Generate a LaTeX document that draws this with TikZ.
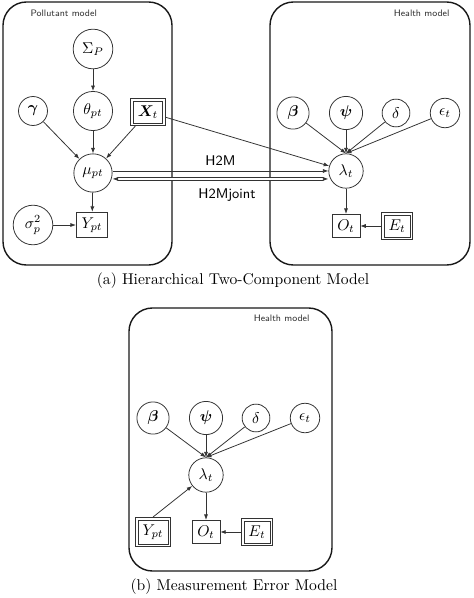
\documentclass[tikz,border=0pt]{standalone}
\usepackage{amsmath,amssymb}
\usepackage{bm}
\usepackage{tikz}
\usetikzlibrary{positioning,calc,arrows.meta}

\tikzset{
    latent/.style={circle, draw=black!80, line width=0.5pt},
    obs/.style={rectangle, draw=black!80, line width=0.5pt},
    fixed/.style={obs, inner sep=4.5pt,
        path picture={\draw [black!80, line width=0.5pt]
            ([shift={(1.6pt,1.6pt)}]path picture bounding box.south west) rectangle
            ([shift={(-1.6pt,-1.6pt)}]path picture bounding box.north east);}},
    plate/.style={draw=black!90, line width=0.9pt, rounded corners=15pt},
    platelabel/.style={font=\fontsize{6}{7}\selectfont\sffamily, text=black!80},
    edge/.style={-{Latex[length=3.5pt,width=2.6pt]}, draw=black!80, line width=0.5pt},
    jointedge/.style={{Latex[length=3.5pt,width=2.6pt]}-{Latex[length=3.5pt,width=2.6pt]}, draw=black!80, line width=0.5pt, double, double distance=1.1pt}
}

\begin{document}
\begin{tikzpicture}[x=0.641pt, y=-0.641pt]
    \useasboundingbox (0,0) rectangle (474,598);

    % (a) plates
    \draw [plate] (3,2) rectangle (172,265);
    \draw [plate] (270,2) rectangle (470,265);
    \node [platelabel, anchor=west] (pl) at (25,13) {Pollutant model};
    \node [platelabel, anchor=east] (hl) at (455,13) {Health model};

    % pollutant model
    \node [latent] (Sigma) at (93,49) {$\Sigma_P$};
    \node [latent] (theta) at (93,111) {$\theta_{pt}$};
    \node [latent] (gamma) at (33,111) {$\bm{\gamma}$};
    \node [fixed] (X) at (148,112) {$\bm{X}_t$};
    \node [latent] (mu) at (93,173) {$\mu_{pt}$};
    \node [latent] (sigma) at (33,225) {$\sigma_p^2$};
    \node [obs] (Y) at (92,225) {$Y_{pt}$};

    % health model
    \node [latent] (beta) at (293,113) {$\bm{\beta}$};
    \node [latent] (psi) at (346,113) {$\bm{\psi}$};
    \node [latent] (delta) at (396,113) {$\delta$};
    \node [latent] (eps) at (445,113) {$\epsilon_t$};
    \node [latent] (lambda) at (346,171) {$\lambda_t$};
    \node [obs] (O) at (346,226) {$O_t$};
    \node [fixed] (E) at (397,226) {$E_t$};

    \draw [edge] (Sigma) -- (theta);
    \draw [edge] (theta) -- (mu);
    \draw [edge] (gamma) -- (mu);
    \draw [edge] (X) -- (mu);
    \draw [edge] (mu) -- (Y);
    \draw [edge] (sigma) -- (Y);
    \draw [edge] (X) -- (lambda);
    \draw [edge] (beta) -- (lambda.north);
    \draw [edge] (psi) -- (lambda.north);
    \draw [edge] (delta) -- (lambda.north);
    \draw [edge] (eps) -- (lambda.north);
    \draw [edge] (lambda) -- (O);
    \draw [edge] (E) -- (O);

    \draw [edge] ([yshift=1.3pt]mu.east) -- ([yshift=1.3pt]mu.east -| lambda.west)
        node[midway, above, font=\small\sffamily] {H2M};
    \draw [jointedge] ([yshift=-3.8pt]mu.east) -- ([yshift=-3.8pt]mu.east -| lambda.west)
        node[pos=0.53, below, font=\small\sffamily, yshift=-2.5pt] {H2Mjoint};

    \node (capa) at (233,281) {(a) Hierarchical Two-Component Model};

    % (b) plate
    \draw [plate] (129,308) rectangle (332,571);
    \node [platelabel, anchor=east] (hl2) at (315,318) {Health model};

    \node [latent] (beta2) at (153,418) {$\bm{\beta}$};
    \node [latent] (psi2) at (206,418) {$\bm{\psi}$};
    \node [latent] (delta2) at (256,418) {$\delta$};
    \node [latent] (eps2) at (305,418) {$\epsilon_t$};
    \node [latent] (lambda2) at (206,475) {$\lambda_t$};
    \node [fixed] (Y2) at (153,532) {$Y_{pt}$};
    \node [obs] (O2) at (206,532) {$O_t$};
    \node [fixed] (E2) at (257,532) {$E_t$};

    \draw [edge] (beta2) -- (lambda2.north);
    \draw [edge] (psi2) -- (lambda2.north);
    \draw [edge] (delta2) -- (lambda2.north);
    \draw [edge] (eps2) -- (lambda2.north);
    \draw [edge] (Y2.north) -- (lambda2);
    \draw [edge] (lambda2) -- (O2);
    \draw [edge] (E2) -- (O2);

    \node (capb) at (234,587) {(b) Measurement Error Model};
\end{tikzpicture}
\end{document}
